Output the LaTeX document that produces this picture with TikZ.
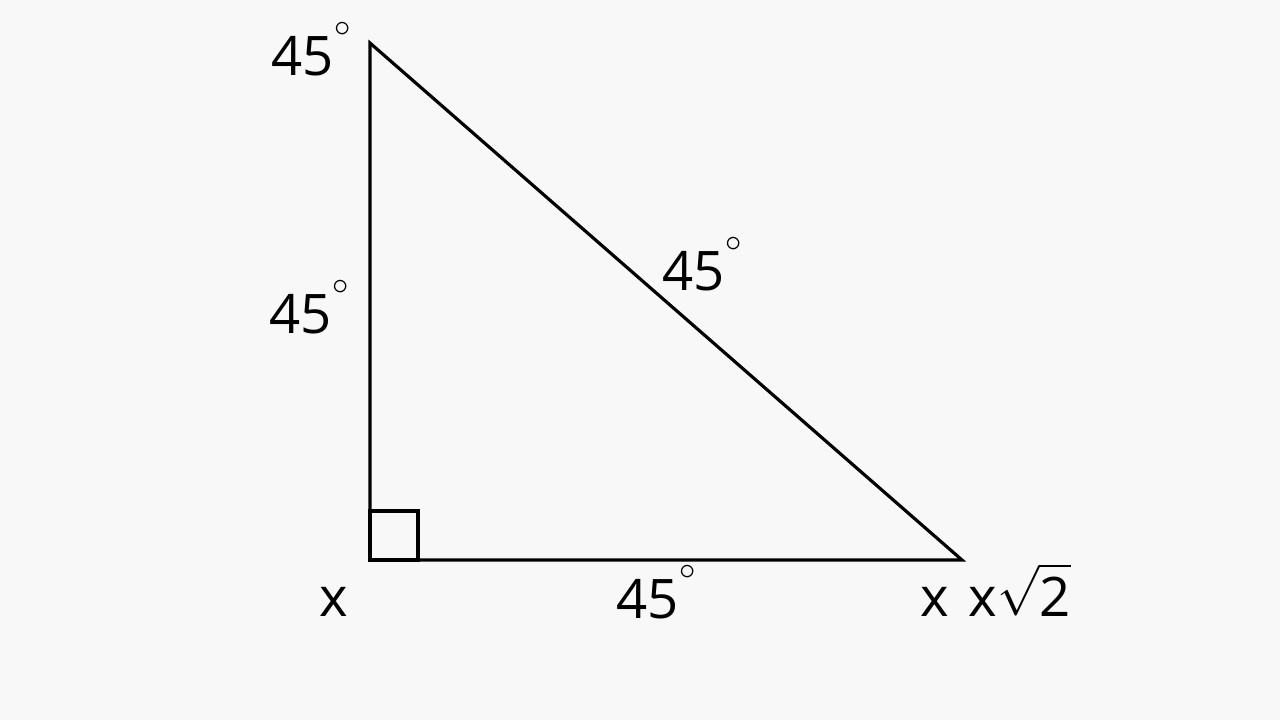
\documentclass[tikz,border=0pt]{standalone}
\usepackage{fontspec}
\setmainfont{Open Sans}
\usepackage{tikz}
\usetikzlibrary{calc, positioning}
\definecolor{paper}{HTML}{F8F8F8}
\newcommand{\deglabel}[2]{
    \node[lbl] (#1) at (#2) {45\raisebox{1.32ex}{\fontsize{9}{9}\selectfont$\circ$}};
}

\begin{document}
\begin{tikzpicture}[x=0.01cm, y=-0.01cm,
    lbl/.style={anchor=base west, inner sep=0pt, font=\fontsize{15.5}{18}\selectfont},
    side/.style={line width=0.9pt, line join=miter}]
    \fill[paper] (0, 0) rectangle (1280, 720);
    \coordinate (top) at (370, 43);
    \coordinate (corner) at (370, 560);
    \coordinate (right) at (962, 560);
    \draw[side] (top) -- (corner) -- (right) -- cycle;
    \draw[side] (corner) rectangle ($(corner) + (48, -49)$);
    \deglabel{atop}{271, 75}
    \deglabel{aleft}{269, 333}
    \deglabel{ahyp}{662, 290}
    \deglabel{abase}{616, 618}
    \node[lbl] (xa) at (319, 616) {x};
    \node[lbl] (xb) at (920, 616) {x};
    \node[lbl] (xc) at (968, 616) {x$\sqrt{\rule{0pt}{0.47cm}\hbox{2}}$};
\end{tikzpicture}
\end{document}
